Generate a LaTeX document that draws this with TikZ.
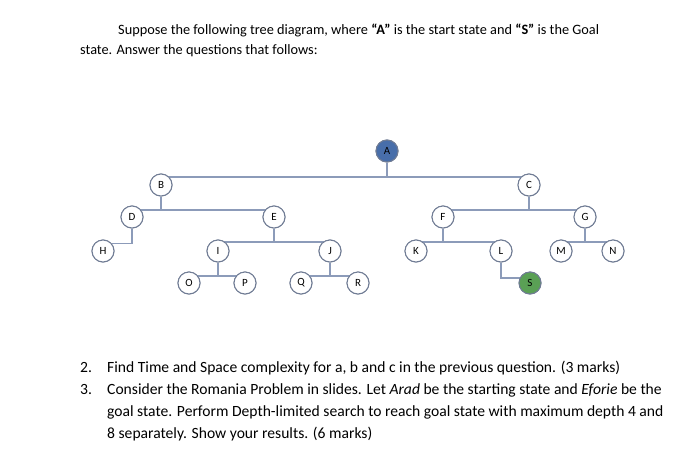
\documentclass[tikz,border=0pt]{standalone}
\usepackage{fontspec}
\setmainfont{Carlito}
\begin{document}
\begin{tikzpicture}[x=1pt,y=-1pt]
\useasboundingbox (0,0) rectangle (700,466);
\definecolor{lc}{RGB}{140,155,185}
\definecolor{af}{RGB}{72,110,170}
\definecolor{sf}{RGB}{90,160,85}
\tikzset{ln/.style={draw=lc,line width=1.3pt},
  st/.style={circle,draw=lc!80!black,line width=1pt,fill=white,minimum size=22pt,inner sep=0pt,font=\fontsize{11}{12}\selectfont}}
\coordinate (yA) at (0,177); \coordinate (yB) at (0,210); \coordinate (yE) at (0,242); \coordinate (yI) at (0,276);
\node[st,fill=af] (A) at (387,151) {A};
\node[st] (B) at (161,185) {B};
\node[st] (C) at (529,185) {C};
\node[st] (D) at (132,217) {D};
\node[st] (E) at (274,217) {E};
\node[st] (F) at (443,217) {F};
\node[st] (G) at (585,217) {G};
\node[st] (H) at (103,251) {H};
\node[st] (I) at (218,251) {I};
\node[st] (J) at (330,251) {J};
\node[st] (K) at (416,251) {K};
\node[st] (L) at (501,251) {L};
\node[st] (M) at (561,251) {M};
\node[st] (N) at (613,251) {N};
\node[st] (O) at (189,283) {O};
\node[st] (P) at (245,283) {P};
\node[st] (Q) at (301,283) {Q};
\node[st] (R) at (358,283) {R};
\node[st,fill=sf] (S) at (530,283) {S};
\path[ln] (A.south) -- (A|-yA) (B.north) -- (B|-yA) -- (C|-yA) -- (C.north);
\path[ln] (B.south) -- (B|-yB) (D.north) -- (D|-yB) -- (E|-yB) -- (E.north);
\path[ln] (C.south) -- (C|-yB) (F.north) -- (F|-yB) -- (G|-yB) -- (G.north);
\path[ln] (D.south) |- (H.40);
\path[ln] (E.south) -- (E|-yE) (I.north) -- (I|-yE) -- (J|-yE) -- (J.north);
\path[ln] (F.south) -- (F|-yE) (K.north) -- (K|-yE) -- (L|-yE) -- (L.north);
\path[ln] (G.south) -- (G|-yE) (M.north) -- (M|-yE) -- (N|-yE) -- (N.north);
\path[ln] (I.south) -- (I|-yI) (O.north) -- (O|-yI) -- (P|-yI) -- (P.north);
\path[ln] (J.south) -- (J|-yI) (Q.north) -- (Q|-yI) -- (R|-yI) -- (R.north);
\path[ln] (L.south) |- (S.155);
\foreach \n/\c in {A/af,B/white,C/white,D/white,E/white,F/white,G/white,H/white,I/white,J/white,K/white,L/white,M/white,N/white,O/white,P/white,Q/white,R/white,S/sf}
  \node[st,fill=\c] at (\n) {\n};
\begin{scope}[every node/.style={anchor=base west,inner sep=0pt,font=\fontsize{14.3}{16}\selectfont}]
\node (t1) at (118,34) {Suppose the following tree diagram, where \textbf{“A”} is the start state and \textbf{“S”} is the Goal};
\node (t2) at (80,54) {state. Answer the questions that follows:};
\end{scope}
\begin{scope}[every node/.style={anchor=base west,inner sep=0pt,font=\fontsize{15.6}{18}\selectfont}]
\node (n2) at (80,372) {2.};
\node (q2) at (107,372) {Find Time and Space complexity for a, b and c in the previous question. (3 marks)};
\node (n3) at (80,394) {3.};
\node (q3) at (107,394) {Consider the Romania Problem in slides. Let \textit{Arad} be the starting state and \textit{Eforie} be the};
\node (q3b) at (107,416) {goal state. Perform Depth-limited search to reach goal state with maximum depth 4 and};
\node (q3c) at (107,438) {8 separately. Show your results. (6 marks)};
\end{scope}
\end{tikzpicture}
\end{document}
